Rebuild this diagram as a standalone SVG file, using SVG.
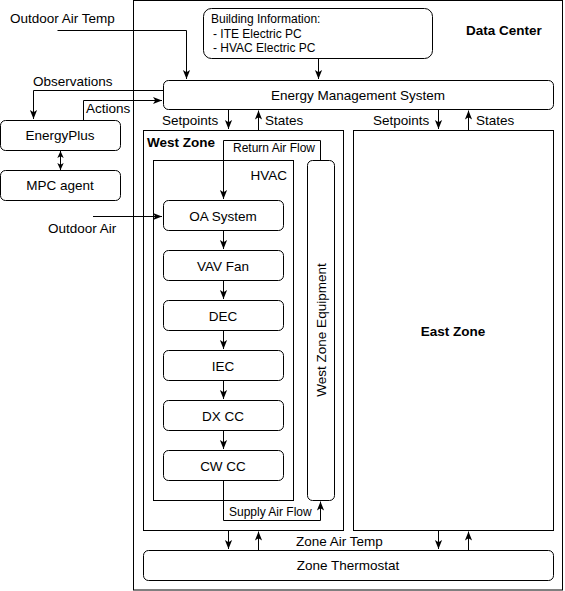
<svg xmlns="http://www.w3.org/2000/svg" width="565" height="591" viewBox="0 0 565 591">
<defs>
<marker id="arr" viewBox="0 0 10 10" refX="10" refY="5" markerWidth="9" markerHeight="9" markerUnits="userSpaceOnUse" orient="auto-start-reverse">
<path d="M0,1 L10,5 L0,9 L2.5,5 z" fill="#000"/>
</marker>
<marker id="arrs" viewBox="0 0 10 10" refX="10" refY="5" markerWidth="7" markerHeight="8" markerUnits="userSpaceOnUse" orient="auto-start-reverse" preserveAspectRatio="none">
<path d="M0,1 L10,5 L0,9 L2.5,5 z" fill="#000"/>
</marker>
</defs>
<style>
text{font-family:"Liberation Sans",Arial,sans-serif;fill:#000;font-size:13.5px}
.c{text-anchor:middle}
.b{font-weight:bold}
.s{font-size:12px}
.box{fill:#fff;stroke:#000;stroke-width:1}
.ln{fill:none;stroke:#000;stroke-width:1}
.a{marker-end:url(#arr)}
</style>
<rect width="565" height="591" fill="#fff"/>
<g id="data-center">
<rect class="box" x="133.5" y="0.5" width="429" height="589.5"/>
<text class="b" x="466" y="35">Data Center</text>
</g>
<g id="building-info">
<rect class="box" x="203.5" y="8.5" width="229" height="50" rx="8"/>
<text class="s" x="211" y="23">Building Information:</text>
<text class="s" x="213" y="37.5">- ITE Electric PC</text>
<text class="s" x="213" y="52">- HVAC Electric PC</text>
</g>
<g id="ems">
<rect class="box" x="163.5" y="80.5" width="390" height="29" rx="5"/>
<text class="c" x="358" y="99.5">Energy Management System</text>
</g>
<g id="energyplus">
<rect class="box" x="0.5" y="120.5" width="120" height="30" rx="5"/>
<text class="c" x="60" y="140">EnergyPlus</text>
</g>
<g id="mpc-agent">
<rect class="box" x="0.5" y="170.5" width="120" height="30" rx="5"/>
<text class="c" x="60" y="190">MPC agent</text>
</g>
<g id="west-zone">
<rect class="box" x="143.5" y="130.5" width="200" height="400"/>
<text class="b" x="147" y="147">West Zone</text>
</g>
<g id="hvac">
<rect class="box" x="153.5" y="160.5" width="140" height="340"/>
<text x="287" y="180" text-anchor="end">HVAC</text>
</g>
<g id="west-zone-equipment">
<rect class="box" x="307.5" y="160.5" width="27" height="340" rx="5"/>
<text class="c" transform="translate(325.5,330) rotate(-90)">West Zone Equipment</text>
</g>
<g id="oa-system">
<rect class="box" x="163.5" y="200.5" width="120" height="30" rx="5"/>
<text class="c" x="223" y="220.5">OA System</text>
</g>
<g id="vav-fan">
<rect class="box" x="163.5" y="250.5" width="120" height="30" rx="5"/>
<text class="c" x="223" y="270.5">VAV Fan</text>
</g>
<g id="dec">
<rect class="box" x="163.5" y="300.5" width="120" height="30" rx="5"/>
<text class="c" x="223" y="320.5">DEC</text>
</g>
<g id="iec">
<rect class="box" x="163.5" y="350.5" width="120" height="30" rx="5"/>
<text class="c" x="223" y="370.5">IEC</text>
</g>
<g id="dx-cc">
<rect class="box" x="163.5" y="400.5" width="120" height="30" rx="5"/>
<text class="c" x="223" y="420.5">DX CC</text>
</g>
<g id="cw-cc">
<rect class="box" x="163.5" y="450.5" width="120" height="30" rx="5"/>
<text class="c" x="223" y="470.5">CW CC</text>
</g>
<g id="east-zone">
<rect class="box" x="353.5" y="130.5" width="200" height="400"/>
<text class="c b" x="453" y="336">East Zone</text>
</g>
<g id="zone-thermostat">
<rect class="box" x="143.5" y="550.5" width="410" height="30" rx="5"/>
<text class="c" x="348" y="570">Zone Thermostat</text>
</g>
<g id="connectors">
<path class="ln a" d="M57.5,30.5 H186.5 V79"/>
<text x="10" y="23">Outdoor Air Temp</text>
<path class="ln a" d="M318.5,58.5 V79"/>
<path class="ln a" d="M163.5,90.5 H33.5 V119"/>
<text x="33" y="86">Observations</text>
<path class="ln a" d="M83.5,120.5 V100.5 H162"/>
<text x="86" y="113">Actions</text>
<path class="ln" d="M60.5,151 V170" marker-start="url(#arrs)" marker-end="url(#arrs)"/>
<path class="ln a" d="M228.5,109.5 V129"/>
<text x="162" y="125">Setpoints</text>
<path class="ln a" d="M258.5,130.5 V110.5"/>
<text x="265" y="125">States</text>
<path class="ln a" d="M438.5,109.5 V129"/>
<text x="373" y="125">Setpoints</text>
<path class="ln a" d="M468.5,130.5 V110.5"/>
<text x="476" y="125">States</text>
<path class="ln a" d="M320.5,160.5 V140.5 H223.5 V199"/>
<rect x="226" y="141" width="92" height="15" fill="#fff"/>
<text class="s" x="233" y="152">Return Air Flow</text>
<path class="ln a" d="M93,216.5 H162"/>
<text x="48" y="232.5">Outdoor Air</text>
<path class="ln a" d="M223.5,230.5 V249"/>
<path class="ln a" d="M223.5,280.5 V299"/>
<path class="ln a" d="M223.5,330.5 V349"/>
<path class="ln a" d="M223.5,380.5 V399"/>
<path class="ln a" d="M223.5,430.5 V449"/>
<path class="ln a" d="M223.5,480.5 V520.5 H320.5 V501.5"/>
<text class="s" x="229" y="515.5">Supply Air Flow</text>
<path class="ln a" d="M228.5,530.5 V549"/>
<path class="ln a" d="M258.5,550.5 V531.5"/>
<path class="ln a" d="M438.5,530.5 V549"/>
<path class="ln a" d="M468.5,550.5 V531.5"/>
<text x="296" y="545.5">Zone Air Temp</text>
</g>
</svg>
